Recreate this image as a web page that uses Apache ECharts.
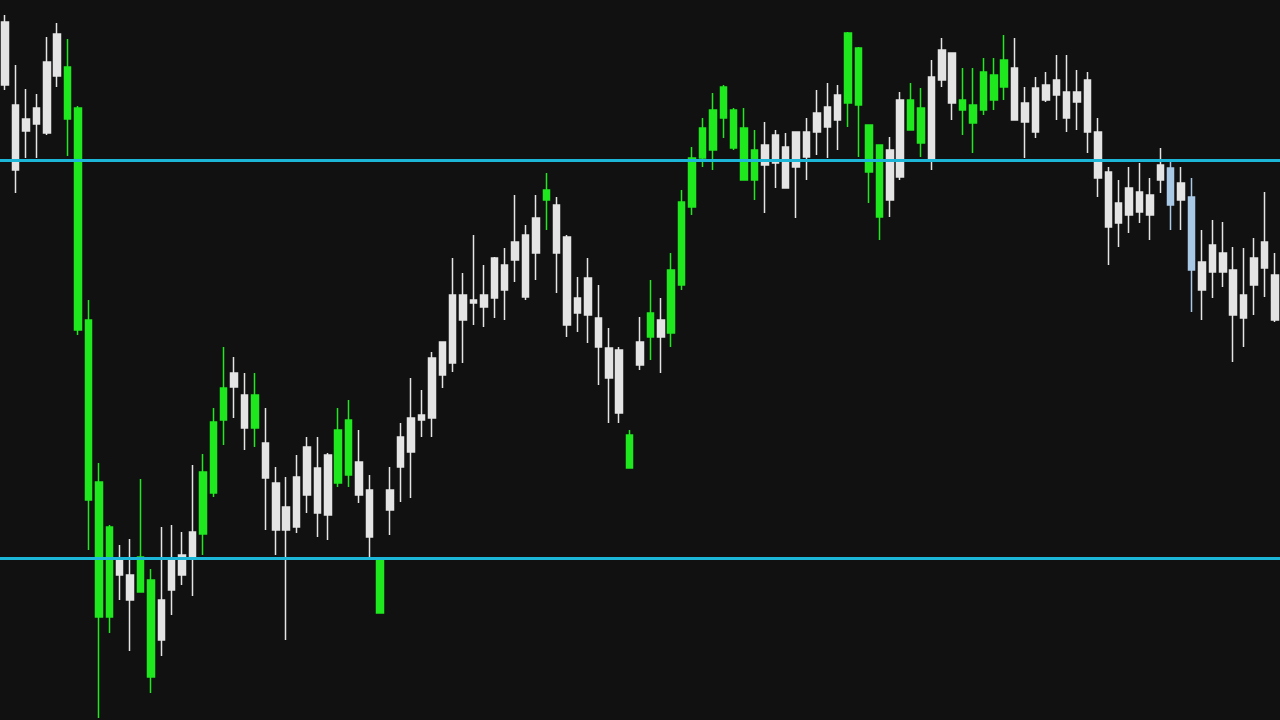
<!DOCTYPE html>
<html>
<head>
<meta charset="utf-8">
<script src="https://cdn.jsdelivr.net/npm/echarts@6/dist/echarts.min.js"></script>
<style>
html,body{margin:0;padding:0;background:#111111;}
#chart{width:1280px;height:720px;}
</style>
</head>
<body>
<div id="chart"></div>
<script>
// Candle values (price units), one entry per bar
const opens = [698,615,601,612,658,686,653,612,400,238,193,160,145,163,140,120,160,165,188,248,298,332,347,325,325,277,237,213,243,273,252,265,290,300,258,230,160,230,283,302,305,362,378,425,425,420,425,462,455,478,485,502,530,515,483,422,442,402,372,370,285,378,407,400,450,518,562,592,610,633,610,592,570,575,585,573,588,588,607,613,625,687,672,595,575,570,620,620,612,643,670,667,620,615,648,645,660,652,617,632,635,640,628,628,640,588,548,517,532,528,525,555,552,537,523,458,475,467,450,425,462,478,445];
const closes = [635,550,589,596,587,644,601,390,220,103,103,145,120,128,43,80,130,145,163,186,227,300,333,292,292,242,190,190,193,225,207,205,237,245,225,183,107,210,253,268,300,302,345,357,400,417,413,422,430,460,423,467,520,467,395,407,405,373,342,307,252,355,383,383,387,435,513,562,570,602,572,540,540,555,557,532,553,563,588,593,600,617,615,548,503,520,543,590,577,560,640,617,610,597,610,620,633,600,598,588,620,625,602,618,588,542,493,497,505,508,505,540,515,520,450,430,448,448,405,402,435,452,400];
const lows = [630,527,562,562,585,633,564,385,170,2,87,120,69,128,27,64,105,135,124,165,223,275,302,270,273,190,165,80,187,207,183,180,233,233,217,162,107,185,218,222,283,283,332,348,357,395,393,402,400,438,420,440,490,427,383,388,377,335,297,297,252,350,360,347,373,430,505,553,550,582,570,540,520,507,532,532,502,540,565,562,570,593,563,517,480,503,540,590,563,550,633,600,585,567,605,610,620,600,562,582,618,600,588,590,567,523,455,473,487,497,480,527,490,490,408,400,422,433,358,373,405,423,398];
const highs = [705,655,631,626,683,697,681,614,420,257,195,175,181,241,151,193,195,188,255,266,312,373,363,347,347,312,253,243,265,283,283,267,312,320,290,245,162,253,297,342,330,368,378,462,447,485,455,463,472,525,495,525,547,523,485,443,462,435,392,373,290,403,440,422,467,530,573,602,627,635,612,612,590,598,590,587,588,602,630,637,635,688,673,595,575,583,628,637,632,660,682,667,652,652,662,662,685,682,633,643,648,665,665,650,648,602,553,540,553,557,542,572,560,553,542,490,500,498,473,472,482,528,467];
// Colour key of each bar: W = white, G = green, B = light blue
const colorKeys = [
  'W','W','W','W','W','W',
  'G','G','G','G','G',
  'W','W','G','G',
  'W','W','W','W',
  'G','G','G',
  'W','W','G',
  'W','W','W','W','W','W','W',
  'G','G','W','W','G',
  'W','W','W','W','W','W','W','W','W','W','W','W','W','W','W',
  'G',
  'W','W','W','W','W','W','W',
  'G','W','G','W',
  'G','G','G','G','G','G','G','G','G',
  'W','W','W','W','W','W','W','W',
  'G','G','G','G',
  'W','W','G','G','W','W','W',
  'G','G','G','G','G',
  'W','W','W','W','W','W','W','W','W','W','W','W','W',
  'W','W','B','W','B',
  'W','W','W','W','W','W','W','W'
];
// Horizontal level lines (price units)
const levels = [560, 162];

const palette = { W: '#e4e4e4', G: '#1fe81f', B: '#a9c9e6' };

const categories = opens.map((_, i) => 'c' + (i + 1));
const data = opens.map((o, i) => {
  const c = palette[colorKeys[i]] || palette.W;
  return {
    value: [o, closes[i], lows[i], highs[i]],
    itemStyle: { color: c, color0: c, borderColor: c, borderColor0: c, borderWidth: 1.5 }
  };
});

const chart = echarts.init(document.getElementById('chart'), null, { renderer: 'canvas' });
chart.setOption({
  backgroundColor: '#111111',
  animation: false,
  grid: { left: 0, right: 0, top: 0, bottom: 0 },
  xAxis: { type: 'category', data: categories, show: false, boundaryGap: true },
  yAxis: { type: 'value', min: 0, max: 720, show: false, splitLine: { show: false } },
  series: [{
    type: 'candlestick',
    data: data,
    barWidth: 7,
    markLine: {
      silent: true,
      symbol: ['none', 'none'],
      label: { show: false },
      lineStyle: { color: '#1cb6d8', width: 3, type: 'solid' },
      data: levels.map(v => ({ yAxis: v }))
    }
  }]
});
</script>
</body>
</html>
